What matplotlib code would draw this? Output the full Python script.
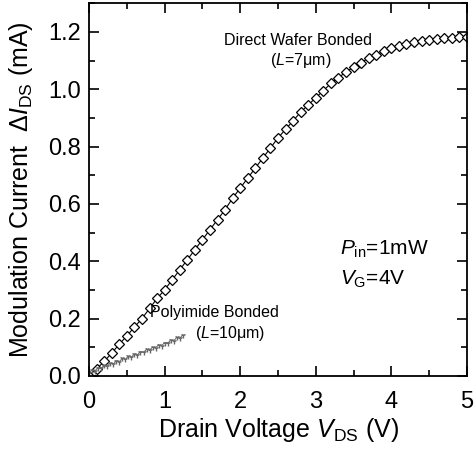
import numpy as np
import matplotlib.pyplot as plt
from matplotlib.ticker import MultipleLocator

plt.rcParams['font.family'] = ['Liberation Sans', 'DejaVu Sans']
plt.rcParams['mathtext.fontset'] = 'custom'
plt.rcParams['mathtext.rm'] = 'Liberation Sans'
plt.rcParams['mathtext.it'] = 'Liberation Sans:italic'

# --- data ---
v_direct = np.arange(0, 51) * 0.1
i_direct = [0.00, 0.025, 0.05, 0.08, 0.11, 0.14, 0.17, 0.20, 0.235, 0.27,
            0.30, 0.335, 0.37, 0.405, 0.44, 0.475, 0.51, 0.545, 0.58, 0.62,
            0.655, 0.69, 0.725, 0.76, 0.795, 0.83, 0.86, 0.89, 0.92, 0.945,
            0.97, 0.995, 1.02, 1.04, 1.06, 1.077, 1.093, 1.108, 1.12, 1.132,
            1.142, 1.15, 1.157, 1.163, 1.168, 1.172, 1.175, 1.178, 1.18, 1.182,
            1.183]

v_poly = np.arange(0, 32) * 0.04
i_poly = [0.010, 0.020, 0.016, 0.026, 0.022, 0.032, 0.028, 0.038, 0.034, 0.044,
          0.040, 0.050, 0.046, 0.056, 0.052, 0.062, 0.058, 0.068, 0.064, 0.074,
          0.070, 0.080, 0.076, 0.086, 0.082, 0.092, 0.088, 0.099, 0.095, 0.106,
          0.102, 0.113]
i_poly = [y + 0.03 * x / 1.24 for x, y in zip(v_poly, i_poly)]

fig = plt.figure(figsize=(4.74, 4.55), dpi=100)
ax = fig.add_axes([0.188, 0.174, 0.797, 0.819])

ax.plot(v_direct, i_direct, color='black', lw=0.8, marker='D', ms=5.4,
        mfc='white', mec='black', mew=0.9)
ax.plot(v_poly, i_poly, color='#666666', lw=0.7, marker='1', ms=4,
        mec='#666666')

ax.set_xlim(0, 5)
ax.set_ylim(0, 1.3)
ax.xaxis.set_major_locator(MultipleLocator(1))
ax.xaxis.set_minor_locator(MultipleLocator(0.5))
ax.yaxis.set_major_locator(MultipleLocator(0.2))
ax.yaxis.set_minor_locator(MultipleLocator(0.1))
ax.yaxis.set_major_formatter(plt.FormatStrFormatter('%.1f'))
ax.tick_params(which='both', direction='in', top=True, right=True, width=1.2)
ax.tick_params(which='major', length=7, labelsize=17)
ax.tick_params(axis='x', which='major', pad=11)
ax.tick_params(axis='y', which='major', pad=6)
ax.tick_params(which='minor', length=4)
for s in ax.spines.values():
    s.set_linewidth(1.3)

ax.set_xlabel('Drain Voltage $\\it{V}_{\\rm DS}$ (V)', fontsize=18, labelpad=2)
ax.set_ylabel('Modulation Current  $\\Delta\\it{I}_{\\rm DS}$ (mA)', fontsize=18, labelpad=9)

ax.text(2.77, 1.17, 'Direct Wafer Bonded', fontsize=11.5, ha='center', va='center')
ax.text(2.8, 1.10, '($\\it{L}$=7μm)', fontsize=11.5, ha='center', va='center')
ax.text(1.66, 0.22, 'Polyimide Bonded', fontsize=11.5, ha='center', va='center')
ax.text(1.87, 0.148, '($\\it{L}$=10μm)', fontsize=11.5, ha='center', va='center')
ax.text(3.32, 0.44, '$\\it{P}_{\\rm in}$=1mW', fontsize=15, ha='left', va='center')
ax.text(3.32, 0.335, '$\\it{V}_{\\rm G}$=4V', fontsize=15, ha='left', va='center')

fig.savefig('out.png', dpi=100)
